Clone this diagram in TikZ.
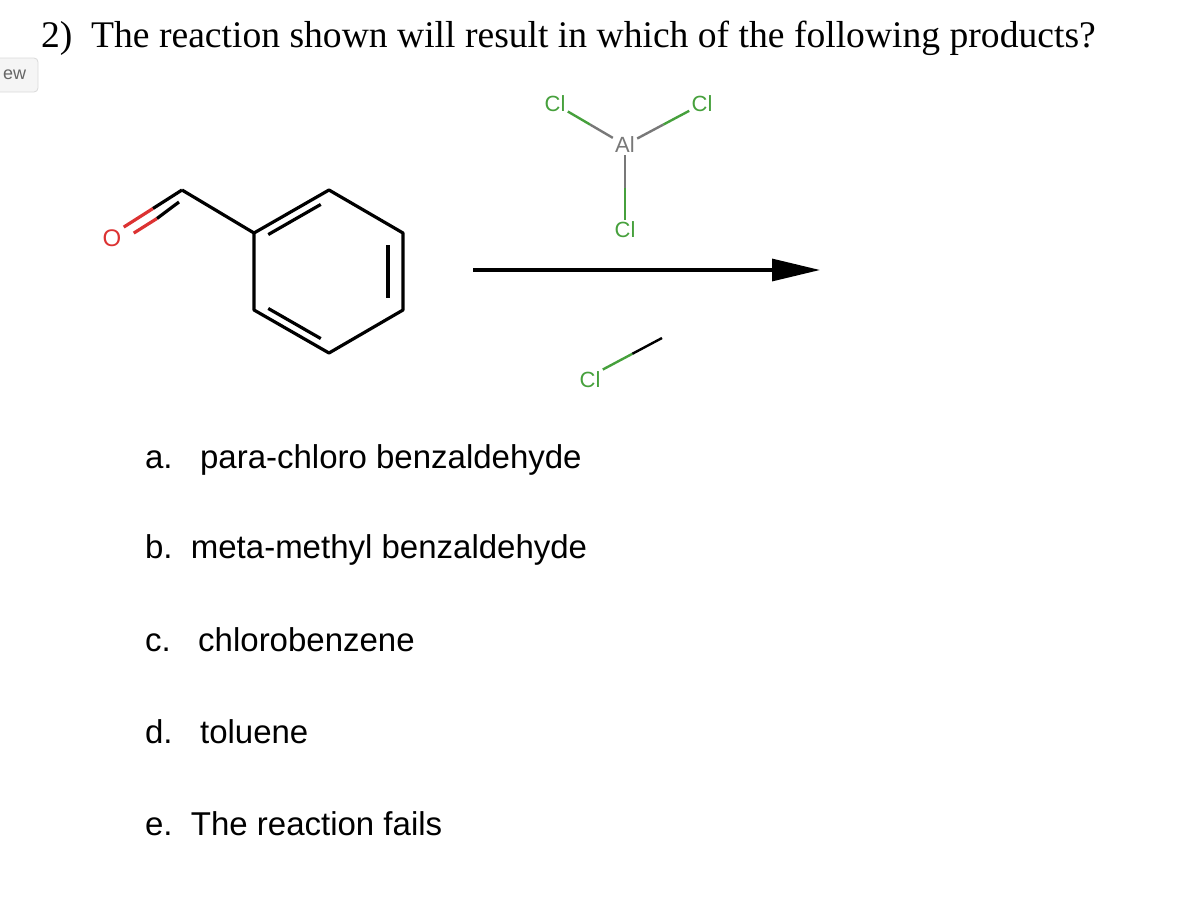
\documentclass[tikz,border=0pt]{standalone}
\usepackage{fontspec}
\setmainfont{Liberation Serif}
\setsansfont{Liberation Sans}
\usetikzlibrary{arrows.meta,calc}
\definecolor{clgreen}{RGB}{70,160,60}
\definecolor{algray}{RGB}{120,120,120}
\definecolor{ored}{RGB}{220,50,50}
\tikzset{
  bond/.style={line width=1.6pt},
  atom/.style={inner sep=1pt,font=\sffamily\fontsize{11}{11}\selectfont},
  choice/.style={anchor=west,font=\sffamily\fontsize{16.5}{18}\selectfont}
}
\begin{document}
\begin{tikzpicture}[x=0.5pt,y=-0.5pt]
  \useasboundingbox (0,0) rectangle (1186,910);
  % tab at the left edge
  \draw[rounded corners=2pt,fill=gray!8,draw=gray!30] (-10,58) rectangle (38,92);
  \node[anchor=west,font=\sffamily\fontsize{9}{9}\selectfont,text=gray!80!black] (tab) at (-4,75) {ew};
  \node[anchor=west,font=\fontsize{18.8}{20}\selectfont] (question) at (34,38) {2)\ \ The reaction shown will result in which of the following products?};

  % benzaldehyde
  \coordinate (r1) at (329,190);
  \coordinate (r2) at (403,233);
  \coordinate (r3) at (403,310);
  \coordinate (r4) at (329,353);
  \coordinate (r5) at (254,310);
  \coordinate (r6) at (254,233);
  \draw[bond,line join=round] (r1) -- (r2) -- (r3) -- (r4) -- (r5) -- (r6) -- cycle;
  \draw[bond] ($(r1)!0.15!(r6)+(3,8)$) -- ($(r1)!0.85!(r6)+(3,8)$);
  \draw[bond] (388,245) -- (388,298);
  \draw[bond] ($(r4)!0.15!(r5)+(3,-8)$) -- ($(r4)!0.85!(r5)+(3,-8)$);
  \coordinate (cho) at (182,190);
  \node[atom,text=ored,font=\sffamily\fontsize{12}{12}\selectfont] (oxy) at (112,238) {O};
  \draw[bond] (r6) -- (cho);
  \draw[bond] (cho) -- ($(cho)!0.5!(oxy.north east)$);
  \draw[bond,ored] ($(cho)!0.5!(oxy.north east)$) -- (oxy.north east);
  \draw[bond] ($(cho)+(-3,12)$) -- ($(cho)!0.5!(oxy.north east)+(4,10)$);
  \draw[bond,ored] ($(cho)!0.5!(oxy.north east)+(4,10)$) -- ($(oxy.north east)+(10,6)$);

  % aluminium chloride
  \node[atom,text=algray] (al) at (625,145) {Al};
  \node[atom,text=clgreen] (cla) at (555,104) {Cl};
  \node[atom,text=clgreen] (clb) at (702,104) {Cl};
  \node[atom,text=clgreen] (clc) at (625,230) {Cl};
  \foreach \c in {cla,clb,clc}{
    \draw[line width=1.2pt,algray] (al) -- ($(al)!0.5!(\c)$);
    \draw[line width=1.2pt,clgreen] ($(al)!0.5!(\c)$) -- (\c);
  }

  % arrow
  \coordinate (from) at (473,270);
  \coordinate (to) at (820,270);
  \draw[line width=1.6pt,-{Triangle[length=24pt,width=11pt]}] (from) -- (to);

  % chloromethane
  \node[atom,text=clgreen] (clm) at (590,380) {Cl};
  \coordinate (me) at (662,338);
  \draw[line width=1.2pt,clgreen] (clm.north east) -- ($(clm.north east)!0.5!(me)$);
  \draw[line width=1.2pt] ($(clm.north east)!0.5!(me)$) -- (me);

  % answers
  \node[choice] (ansa) at (138,460) {a.\ \ \ para-chloro benzaldehyde};
  \node[choice] (ansb) at (138,550) {b.\ \ meta-methyl benzaldehyde};
  \node[choice] (ansc) at (138,640) {c.\ \ \ chlorobenzene};
  \node[choice] (ansd) at (138,732) {d.\ \ \ toluene};
  \node[choice] (anse) at (138,824) {e.\ \ The reaction fails};
\end{tikzpicture}
\end{document}
